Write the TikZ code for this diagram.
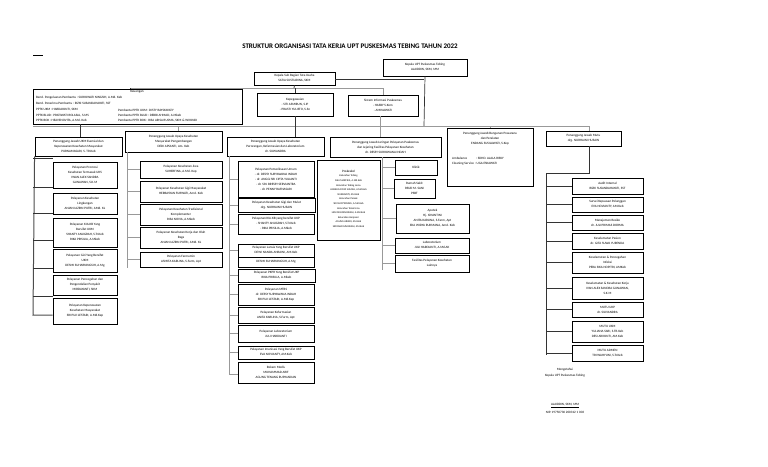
\documentclass[tikz,border=0pt]{standalone}
\usepackage{fontspec}
\setmainfont{Carlito}
\begin{document}
\begin{tikzpicture}[x=1pt,y=-1pt,
  bx/.style={draw=black,line width=0.9pt,inner sep=0.5pt,align=center,font=\fontsize{3.3}{5}\selectfont},
  ln/.style={draw=black!80,line width=0.7pt},
  gl/.style={draw=black!40,line width=0.7pt},
  tx/.style={inner sep=0,font=\fontsize{3.3}{5}\selectfont}]
\useasboundingbox (0,0) rectangle (768,466);
\newcommand\bx[6]{\pgfmathsetmacro\bw{#4-#2}\pgfmathsetmacro\bh{#5-#3}%
\node[bx,minimum width=\bw pt,minimum height=\bh pt] (#1) at ({(#2+#4)/2},{(#3+#5)/2}) {#6};}
% title
\node[inner sep=0,font=\fontsize{7}{8}\selectfont\bfseries] (title) at (350,46) {STRUKTUR ORGANISASI TATA KERJA UPT PUSKESMAS TEBING TAHUN 2022};
\draw[line width=0.8pt] (33,55) coordinate (d1) -- (43,55) coordinate (d2);
% top
\bx{kepala}{383}{59}{467}{76}{Kepala UPT Puskesmas Tebing\\ALAIDDIN, SKM, MM}
\bx{kasubag}{254}{72}{335}{85}{Kepala Sub Bagian Tata Usaha\\SATIA SUSTIARINA, SKM}
\bx{keu}{33}{89}{242}{124}{}
\node[tx] (keuh) at (137,92) {Keuangan};
\node[tx,anchor=west] (k1) at (36,98) {Bend. Pengeluaran Pembantu : SURYAWATI NINGSIH, A.Md. Keb};
\node[tx,anchor=west] (k2) at (36,104) {Bend. Penerima Pembantu : RIZKI SUSANDAHAYATI, SST};
\node[tx,anchor=west] (k3) at (36,110) {PPTK UKM : HARDAYANTI, SKM};
\node[tx,anchor=west] (k4) at (36,116) {PPTK BLUD : PRATIWATI ROLASAL, S.MS};
\node[tx,anchor=west] (k5) at (36,121) {PPTK BOK : HEAVENOVITA, A.Md. Keb};
\node[tx,anchor=west] (k6) at (118,110) {Pembantu PPTK UKM : DISTY RAYSKAYATY};
\node[tx,anchor=west] (k7) at (118,116) {Pembantu PPTK BLUD : DEBBI AHMAD, A.Mkeb};
\node[tx,anchor=west] (k8) at (118,121) {Pembantu PPTK BOK : RISA ARISA RUSMA, SKM \& WIYANDI};
\bx{peg}{257}{93}{333}{116}{Kepegawaian\\- SITI ASMIRUN, S.IP\\- PRASTI YULISTO, S.Sn}
\bx{sis}{348}{95}{418}{116}{Sistem Informasi Puskesmas\\- HASBY S.Kom\\- AMINAWATI}
\coordinate (kx) at (424,79);
\draw[ln] (kasubag.east) -- (kasubag.east |- kx) -- (kx);
\draw[ln] (kepala.south) -- (424,126) coordinate (rowR);
\draw[ln] (kasubag.south) -- (294,88) coordinate (m1);
\draw[gl] (130,88) coordinate (m0) -- (383,88) coordinate (m2) -- (383,95);
\draw[ln] (m0) -- (keu.north -| m0);
\draw[ln] (peg.north) -- (peg.north |- m1);
% heads
\bx{hA}{35}{137}{122}{156}{Penanggung Jawab UKM Esensial dan\\Keperawatan Kesehatan Masyarakat\\PURNAMASARI, S. TR.Keb}
\bx{hB}{125}{131}{222}{152}{Penanggung Jawab Upaya Kesehatan\\Masyarakat Pengembangan\\DEDI APSANTI, Am. Keb}
\bx{hC}{227}{137}{324}{156}{Penanggung Jawab Upaya Kesehatan\\Perorangan, Kefarmasian dan Laboratorium\\dr. SUWANDRA}
\bx{hD}{330}{137}{441}{157}{Penanggung Jawab Jaringan Pelayanan Puskesmas\\dan Jejaring Fasilitas Pelayanan Kesehatan\\dr. DESSY SURYAWANA INDAH}
\node[draw=black,line width=0.9pt,minimum width=86pt,minimum height=58pt,inner sep=0] (hE) at (490,157) {};
\node[tx,align=center] (e1) at (490,139) {Penanggung Jawab Bangunan Prasarana\\dan Peralatan\\ENDANG SUSILAWATI, S.Kep};
\node[tx,anchor=west] (e2) at (452,158) {Ambulance \hspace{8pt}: SDHD. ALALA RISKY};
\node[tx,anchor=west] (e3) at (452,164) {Cleaning Service : UGA ESKAWATI};
\bx{hF}{546}{131}{621}{146}{Penanggung Jawab Mutu\\drg. NURHAINI HUSAIN}
\draw[gl] (33,126) coordinate (row0) -- (589,126) coordinate (row1);
\draw[ln] (keu.south -| 80,0) -- (hA.north -| 80,0);
\draw[gl] (178,126) -- (hB.north -| 178,0);
\draw[ln] (peg.south) -- (hC.north -| peg.south);
\draw[gl] (sis.south -| 380,0) -- (hD.north -| 380,0);
\draw[gl] (490,126) -- (hE.north);
\draw[gl] (row1) -- (hF.north -| row1);
% column A
\bx{a1}{53}{162}{117}{188}{Pelayanan Promosi\\Kesehatan Termasuk UKS\\IWAN ALEX SANDRA\\GUNAWAN, S.K.M}
\bx{a2}{53}{193}{117}{214}{Pelayanan Kesehatan\\Lingkungan\\ANJANI AZRIN PUTRI, AMd. KL}
\bx{a3}{53}{218}{117}{247}{Pelayanan KIA-KB Yang\\Bersifat UKM\\SHANTY ANUGRAH, S.Tr.Keb\\RIKA PRISILIA, A.Mkeb}
\bx{a4}{53}{249}{117}{272}{Pelayanan Gizi Yang Bersifat\\UKM\\DESMI SUHARNINGSIH, A.Mg}
\bx{a5}{53}{275}{117}{295}{Pelayanan Pencegahan dan\\Pengendalian Penyakit\\MIRDAYANTI, SKM}
\bx{a6}{53}{298}{117}{324}{Pelayanan Keperawatan\\Kesehatan Masyarakat\\SRI PUJI LESTARI, A.Md.Kep}
\draw[draw=black!70,line width=1pt] (hA.south west) -- (33,315) coordinate (aB) -- (a6.west |- aB);
\foreach \n/\y in {a1/158,a2/187,a3/213,a4/240,a5/268,a6/296}{\draw[ln] (33,\y) -- (\n.west |- 0,\y);}
% column B
\bx{b1}{140}{161}{222}{178}{Pelayanan Kesehatan Jiwa\\SUHERFINA, A.Md. Kep}
\bx{b2}{140}{181}{222}{202}{Pelayanan Kesehatan Gigi Masyarakat\\HERBASYAN FURWATI, Amd. Keb}
\bx{b3}{140}{204}{222}{225}{Pelayanan Kesehatan Tradisional\\Komplementer\\RISA NOVIA, A.Mkeb}
\bx{b4}{140}{227}{222}{248}{Pelayanan Kesehatan Kerja dan Olah\\Raga\\ANJANI AZRIN PUTRI, AMd. KL}
\bx{b5}{140}{252}{222}{267}{Pelayanan Farmamin\\ASMITA KARLINA, S.Farm, Apt}
\draw[gl] (127,152) -- (127,268) coordinate (bB);
\foreach \n in {b1,b2,b3,b4,b5}{\draw[gl] (\n.west) -- (\n.west -| bB);}
% column C
\bx{c1}{238}{161}{314}{197}{Pelayanan Pemeriksaan Umum\\- dr. DESSY SURYAWANA INDAH\\- dr. ANGGI SRI CIPTA YULIANTI\\- dr. SRI. BRESSY SERVIANTRA\\- dr. PENNY RAFNASARI}
\bx{c2}{238}{198}{315}{212}{Pelayanan Kesehatan Gigi dan Mulut\\drg. NURHAINI HUSAIN}
\bx{c3}{238}{214}{314}{234}{Pelayanan KIA-KB yang bersifat UKP\\- SHANTY ANUGRAH, S.Tr.Keb\\- RIKA PRISILIA, A.Mkeb}
\bx{c4}{238}{244}{314}{257}{Pelayanan Lansia Yang Bersifat UKP\\DEWI NANDA ANRAINI, AM.Keb}
\bx{c5}{238}{257}{314}{267}{DESMI SUHARNINGSIH, A.Mg}
\bx{c6}{238}{269}{315}{282}{Pelayanan PKPR Yang Bersifat UKP\\RIKA PRISILIA, A.Mkeb}
\bx{c7}{238}{284}{314}{305}{Pelayanan MTBS\\dr. DESSY SURYAWANA INDAH\\SRI PUJI LESTARI, A.Md.Kep}
\bx{c8}{238}{307}{314}{323}{Pelayanan Kefarmasian\\ANITA KARLINA, S.Farm, Apt}
\bx{c9}{238}{325}{314}{342}{Pelayanan Laboratorium\\JULI HARDIANTI}
\bx{c10}{238}{346}{314}{359}{Pelayanan Imunisasi Yang Bersifat UKP\\EVA NOVIANTY, AM.Keb}
\bx{c11}{238}{362}{314}{383}{Rekam Medis\\MUHAMMAD ARIF\\AGUNG TENANG RUPINADIAN}
\draw[gl] (229,156) -- (229,374) coordinate (cB) -- (c11.west |- cB);
\foreach \n in {c1,c2,c3,c4,c6,c7,c8,c9,c10}{\draw[gl] (\n.west) -- (\n.west -| cB);}
\node[draw=black,line width=0.9pt,minimum width=63pt,minimum height=80pt,inner sep=0] (pus) at (348.5,200) {};
\node[tx,align=center,font=\fontsize{2.6}{4.6}\selectfont] (pust) at (348.5,199) {{\fontsize{3.3}{5}\selectfont Poskeskel}\\Kelurahan Tebing\\ASIA MARFIKA, A.Md.Keb\\Kelurahan Tebing Lama\\ANGELICA DWI SUMAH, A.Md.Keb\\NURHAYATI, AM.Keb\\Kelurahan Pamak\\SRI SUCIPTANING, A.Md.Keb\\Kelurahan Teluk Uma\\LENI MULYANINGSIH, A.Md.Keb\\Kelurahan Harjosari\\AGUNG ARIADI, AM.Keb\\SRI RAHAYUNINGSIH, AM.Keb};
% column D
\bx{d1}{395}{160}{437}{175}{Klinik}
\bx{d2}{394}{179}{435}{198}{Rumah Sakit\\RSUD M. SANI\\PSBT}
\bx{d3}{396}{204}{469}{233}{Apotek\\Hj. ISHANTINI\\ANITA KARLINA, S.Farm, Apt\\EKA WIDYA RUKMANA, Amd. Keb}
\bx{d4}{395}{238}{469}{253}{Laboratorium\\JULI HARDIANTI, A.Md.AK}
\bx{d5}{395}{255}{469}{272}{Fasilitas Pelayanan Kesehatan\\Lainnya}
\draw[gl] (382,157) -- (382,270) coordinate (dB);
\foreach \n in {d1,d2,d3,d4,d5}{\draw[gl] (\n.west) -- (\n.west -| dB);}
% column F
\bx{f1}{572}{178}{643}{194}{Audit Internal\\RIZKI SUSANDAHAYATI, SST}
\bx{f2}{572}{197}{643}{212}{Survei Kepuasan Pelanggan\\EVA NOVIANTY, AM.Keb}
\bx{f3}{572}{215}{643}{230}{Manajemen Resiko\\dr. JULI PRIMAS DORMA}
\bx{f4}{572}{233}{643}{249}{Keselamatan Pasien\\dr. GITA SUWA YURENDA}
\bx{f5}{572}{252}{643}{273}{Keselamatan \& Pencegahan\\Infeksi\\PERA SIKA NOPITRI, AMKeb}
\bx{f6}{572}{277}{643}{299}{Keselamatan \& Kesehatan Kerja\\IVAN ALEX SANDRA GUNAWAN,\\S.K.M}
\bx{f7}{572}{302}{643}{317}{MUTU UKP\\dr. SILVIANDRA}
\bx{f8}{572}{321}{643}{342}{MUTU UKM\\YULIANA SARI, S.TR.Keb\\DESI ARIYANTI, AM.Keb}
\bx{f9}{572}{345}{643}{361}{MUTU ADMEN\\TRI WAHYUNI, S.Tr.Keb}
\draw[ln] (hF.south -| 589,0) -- (589,173) -- (546,173) -- (546,355) coordinate (fB);
\foreach \n in {f1,f2,f3,f4,f5,f6,f7,f8}{\draw[ln] (\n.west) -- (\n.west -| fB);}
\draw[ln] (f9.west) -- (f9.west -| fB);
% signature
\node[tx] (s1) at (565,370) {Mengetahui};
\node[tx] (s2) at (565,375.5) {Kepala UPT Puskesmas Tebing};
\node[tx,inner sep=0.6pt] (s3) at (565,406) {\underline{ALAIDDIN, SKM, MM}};
\node[tx] (s4) at (565,412) {NIP. 19750730 200312 1 003};
\end{tikzpicture}
\end{document}
